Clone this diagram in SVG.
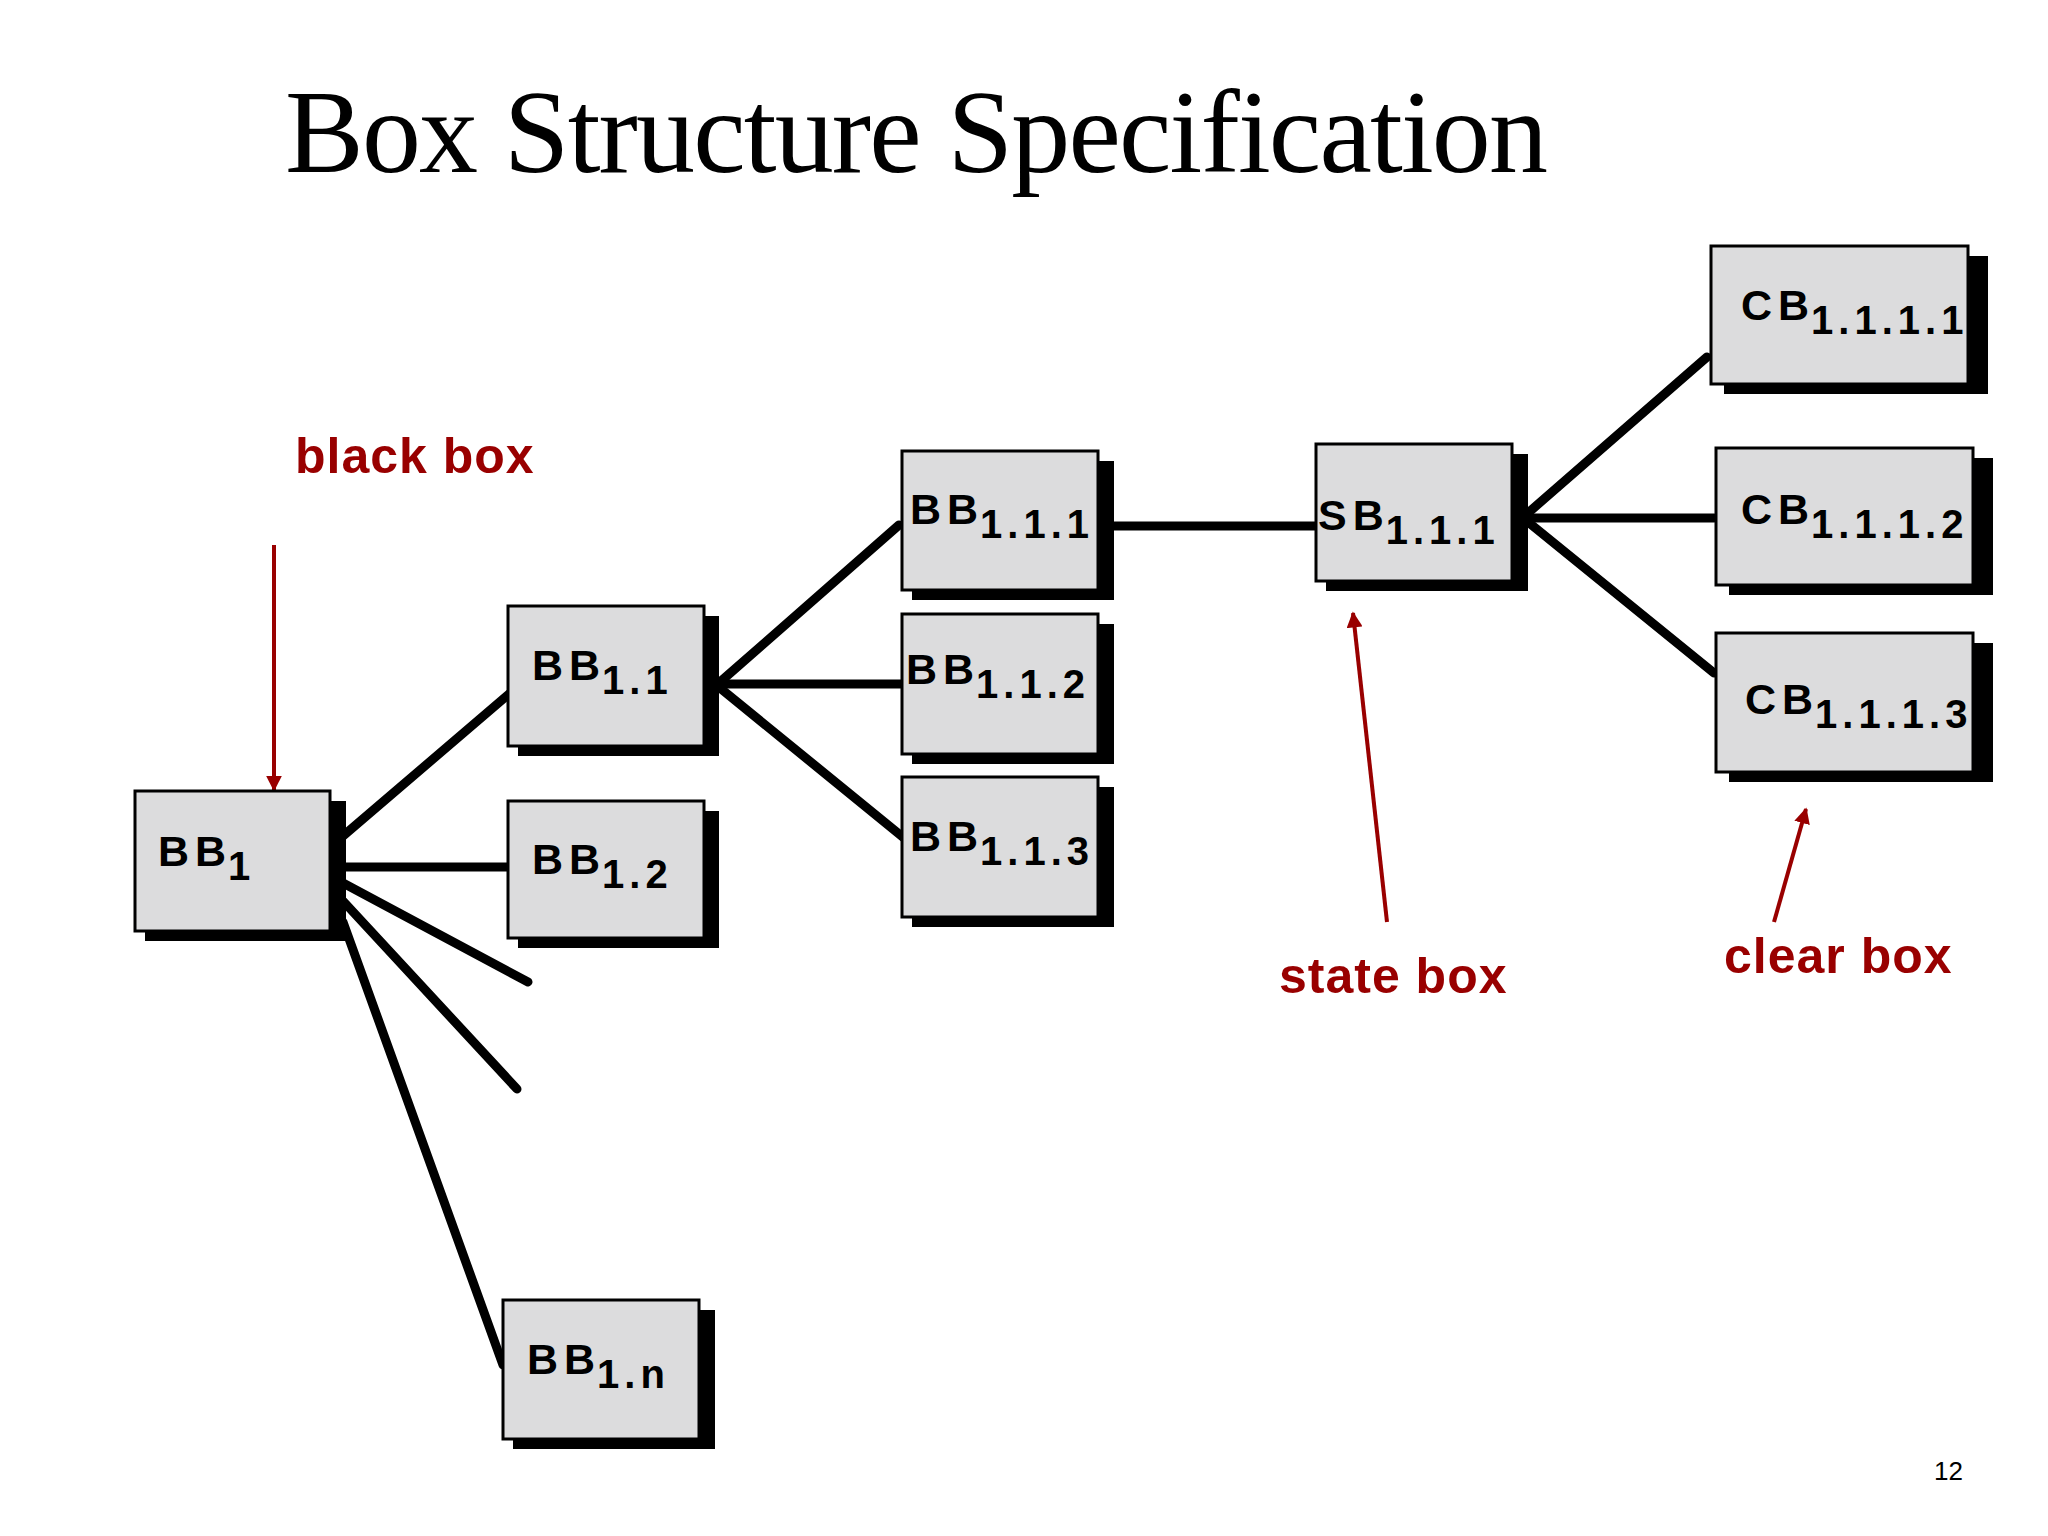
<svg xmlns="http://www.w3.org/2000/svg" width="2048" height="1536" viewBox="0 0 2048 1536">
<style>
.sh{fill:#000}
.bx{fill:#dcdcdd;stroke:#000;stroke-width:3}
.lb{font-family:"Liberation Sans",Arial,sans-serif;font-weight:bold;font-size:43px;fill:#000;letter-spacing:6px}
.sub{font-size:40px;letter-spacing:5px}
.cn{stroke:#000;stroke-width:9;stroke-linecap:round;fill:none}
.ra{stroke:#990000;stroke-width:4;fill:none;marker-end:url(#ah)}
.rt{font-family:"Liberation Sans",Arial,sans-serif;font-weight:bold;font-size:50px;fill:#990000;letter-spacing:1px}
</style>
<defs>
<marker id="ah" viewBox="0 0 10 10" refX="9" refY="5" markerWidth="4" markerHeight="4" orient="auto"><path d="M0,0L10,5L0,10z" fill="#990000"/></marker>
</defs>
<rect width="2048" height="1536" fill="#fff"/>
<text x="285" y="172" font-family="'Liberation Serif','Times New Roman',serif" font-size="118" textLength="1263" fill="#000">Box Structure Specification</text>
<g id="connectors">
<line class="cn" x1="343" y1="836" x2="516" y2="688"/>
<line class="cn" x1="343" y1="867" x2="509" y2="867"/>
<line class="cn" x1="343" y1="883" x2="528" y2="982"/>
<line class="cn" x1="343" y1="901" x2="517" y2="1089"/>
<line class="cn" x1="343" y1="922" x2="503" y2="1365"/>
<line class="cn" x1="720" y1="682" x2="899" y2="525"/>
<line class="cn" x1="720" y1="684" x2="904" y2="684"/>
<line class="cn" x1="720" y1="688" x2="904" y2="838"/>
<line class="cn" x1="1114" y1="526" x2="1316" y2="526"/>
<line class="cn" x1="1528" y1="513" x2="1707" y2="357"/>
<line class="cn" x1="1528" y1="518" x2="1714" y2="518"/>
<line class="cn" x1="1528" y1="522" x2="1714" y2="673"/>
<line class="ra" x1="274" y1="545" x2="274" y2="790"/>
<line class="ra" x1="1387" y1="922" x2="1353" y2="613"/>
<line class="ra" x1="1774" y1="922" x2="1806" y2="809"/>
</g>
<g id="BB1"><rect class="sh" x="145" y="801" width="201" height="140"/><rect class="bx" x="135" y="791" width="195" height="140"/><text class="lb" x="158" y="866">BB<tspan class="sub" dx="-4" dy="14">1</tspan></text></g>
<g id="BB1.1"><rect class="sh" x="518" y="616" width="201" height="140"/><rect class="bx" x="508" y="606" width="196" height="140"/><text class="lb" x="532" y="680">BB<tspan class="sub" dx="-4" dy="14">1.1</tspan></text></g>
<g id="BB1.2"><rect class="sh" x="518" y="811" width="201" height="137"/><rect class="bx" x="508" y="801" width="196" height="137"/><text class="lb" x="532" y="874">BB<tspan class="sub" dx="-4" dy="14">1.2</tspan></text></g>
<g id="BB1.n"><rect class="sh" x="513" y="1310" width="202" height="139"/><rect class="bx" x="503" y="1300" width="196" height="139"/><text class="lb" x="527" y="1374">BB<tspan class="sub" dx="-4" dy="14">1.n</tspan></text></g>
<g id="BB1.1.1"><rect class="sh" x="912" y="461" width="202" height="139"/><rect class="bx" x="902" y="451" width="196" height="139"/><text class="lb" x="910" y="524">BB<tspan class="sub" dx="-4" dy="14">1.1.1</tspan></text></g>
<g id="BB1.1.2"><rect class="sh" x="912" y="624" width="202" height="140"/><rect class="bx" x="902" y="614" width="196" height="140"/><text class="lb" x="906" y="684">BB<tspan class="sub" dx="-4" dy="14">1.1.2</tspan></text></g>
<g id="BB1.1.3"><rect class="sh" x="912" y="787" width="202" height="140"/><rect class="bx" x="902" y="777" width="196" height="140"/><text class="lb" x="910" y="851">BB<tspan class="sub" dx="-4" dy="14">1.1.3</tspan></text></g>
<g id="SB1.1.1"><rect class="sh" x="1326" y="454" width="202" height="137"/><rect class="bx" x="1316" y="444" width="196" height="137"/><text class="lb" x="1318" y="530">SB<tspan class="sub" dx="-4" dy="14">1.1.1</tspan></text></g>
<g id="CB1.1.1.1"><rect class="sh" x="1724" y="256" width="264" height="138"/><rect class="bx" x="1711" y="246" width="257" height="138"/><text class="lb" x="1741" y="320">CB<tspan class="sub" dx="-4" dy="14">1.1.1.1</tspan></text></g>
<g id="CB1.1.1.2"><rect class="sh" x="1729" y="458" width="264" height="137"/><rect class="bx" x="1716" y="448" width="257" height="137"/><text class="lb" x="1741" y="524">CB<tspan class="sub" dx="-4" dy="14">1.1.1.2</tspan></text></g>
<g id="CB1.1.1.3"><rect class="sh" x="1729" y="643" width="264" height="139"/><rect class="bx" x="1716" y="633" width="257" height="139"/><text class="lb" x="1745" y="714">CB<tspan class="sub" dx="-4" dy="14">1.1.1.3</tspan></text></g>
<text class="rt" x="295" y="473">black box</text>
<text class="rt" x="1279" y="993">state box</text>
<text class="rt" x="1724" y="973">clear box</text>
<text x="1934" y="1480" font-family="'Liberation Sans',Arial,sans-serif" font-size="26" fill="#000">12</text>
</svg>
